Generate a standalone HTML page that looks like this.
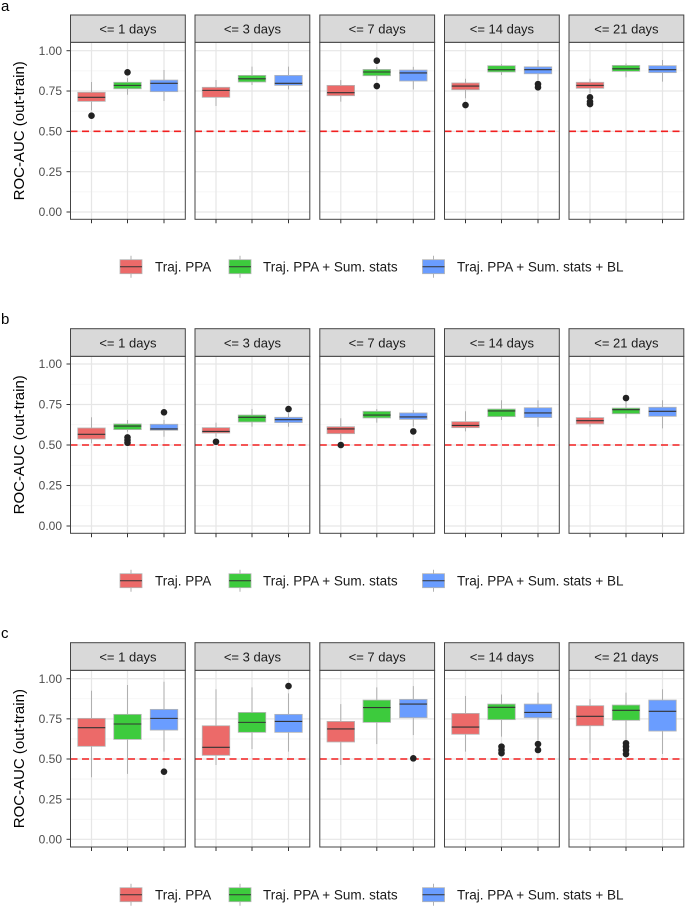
<!DOCTYPE html>
<html><head><meta charset="utf-8"><style>
html,body{margin:0;padding:0;background:#fff;}
svg{display:block;font-family:"Liberation Sans",sans-serif;}
</style></head><body>
<svg id="chart" width="685" height="907" viewBox="0 0 685 907" xmlns="http://www.w3.org/2000/svg"></svg>
<script>
const facets = ["<= 1 days","<= 3 days","<= 7 days","<= 14 days","<= 21 days"];
const series = ["Traj. PPA","Traj. PPA + Sum. stats","Traj. PPA + Sum. stats + BL"];
const yTicks = [0,0.25,0.5,0.75,1];
const yTickLabels = ["0.00","0.25","0.50","0.75","1.00"];
const refLine = 0.5;
// Order within each array: facet-major, series-minor (15 values)
const aQ1 = [0.686,0.764,0.746, 0.711,0.806,0.785, 0.721,0.845,0.812, 0.758,0.868,0.857, 0.767,0.872,0.864];
const aMed = [0.711,0.785,0.798, 0.754,0.826,0.798, 0.740,0.868,0.862, 0.781,0.882,0.882, 0.785,0.888,0.882];
const aQ3 = [0.742,0.804,0.818, 0.773,0.847,0.847, 0.785,0.884,0.880, 0.800,0.907,0.900, 0.804,0.909,0.907];
const aLo = [0.630,0.727,0.688, 0.657,0.787,0.760, 0.684,0.820,0.760, 0.705,0.849,0.818, 0.736,0.835,0.808];
const aHi = [0.806,0.830,0.880, 0.818,0.901,0.901, 0.818,0.900,0.900, 0.826,0.917,0.942, 0.826,0.921,0.942];
const aOut = [[0.597],[0.866],[], [],[],[], [],[0.938,0.781],[], [0.663],[],[0.793,0.773], [0.711,0.684,0.669],[],[]];
const bQ1 = [0.537,0.595,0.591, 0.574,0.642,0.638, 0.570,0.667,0.658, 0.607,0.675,0.669, 0.630,0.693,0.677];
const bMed = [0.566,0.617,0.599, 0.584,0.671,0.656, 0.599,0.685,0.673, 0.621,0.710,0.698, 0.650,0.718,0.708];
const bQ3 = [0.605,0.630,0.628, 0.607,0.685,0.671, 0.613,0.708,0.698, 0.644,0.722,0.730, 0.669,0.728,0.733];
const bLo = [0.510,0.582,0.551, 0.551,0.613,0.613, 0.531,0.638,0.613, 0.584,0.654,0.613, 0.613,0.665,0.603];
const bHi = [0.671,0.654,0.654, 0.638,0.722,0.696, 0.665,0.722,0.716, 0.708,0.776,0.776, 0.710,0.776,0.776];
const bOut = [[],[0.547,0.531,0.514],[0.702], [0.520],[],[0.722], [0.500],[],[0.584], [],[],[], [],[0.790],[]];
const cQ1 = [0.579,0.622,0.680, 0.523,0.666,0.666, 0.606,0.728,0.757, 0.654,0.745,0.757, 0.707,0.741,0.674];
const cMed = [0.695,0.718,0.753, 0.573,0.728,0.734, 0.687,0.820,0.842, 0.699,0.822,0.790, 0.766,0.803,0.797];
const cQ3 = [0.753,0.778,0.809, 0.707,0.790,0.778, 0.734,0.867,0.871, 0.784,0.842,0.842, 0.832,0.836,0.867];
const cLo = [0.386,0.407,0.546, 0.463,0.562,0.546, 0.463,0.593,0.649, 0.546,0.639,0.618, 0.535,0.618,0.531];
const cHi = [0.925,0.961,0.981, 0.934,0.946,0.909, 0.842,0.946,0.954, 0.892,0.902,0.913, 0.873,0.913,0.934];
const cOut = [[],[],[0.421], [],[],[0.954], [],[],[0.504], [],[0.577,0.556,0.536],[0.593,0.556], [],[0.598,0.577,0.556,0.531],[]];

const NS="http://www.w3.org/2000/svg";
const svg=document.getElementById('chart');
const fills=["#EC6A69","#3DCB3D","#6A9DFF"];
const panelLefts=[70.5,195,319.8,444.5,569];
const panelW=114.8;
const boxOff=[21,57,93.5];
const boxW=27.5;
function mk(tag,attrs,parent){const e=document.createElementNS(NS,tag);for(const k in attrs)e.setAttribute(k,attrs[k]);(parent||svg).appendChild(e);return e;}

function drawPanel(cfg){
  const g=mk('g',{});
  
  
  const yS=v=>cfg.y0+(cfg.y1-cfg.y0)*v;
  const lab=mk('text',{x:1,y:cfg.labelY,'font-size':15,fill:'#000'},g);
  lab.textContent=cfg.label;
  
  
  const yc=(cfg.stripBottom+cfg.panelBottom)/2;
  const yt=mk('text',{x:0,y:0,'font-size':15,fill:'#000','text-anchor':'middle',transform:`translate(24,${yc}) rotate(-90)`},g);
  yt.textContent="ROC-AUC (out-train)";
  
  
  yTicks.forEach((t,i)=>{
    const tl=mk('text',{x:62,y:yS(t)+4.2,'font-size':12,fill:'#4d4d4d','text-anchor':'end'},g);
    tl.textContent=yTickLabels[i];
    
    
    mk('line',{x1:66.5,x2:70.5,y1:yS(t),y2:yS(t),stroke:'#333','stroke-width':1},g);
  });
  facets.forEach((f,fi)=>{
    const L=panelLefts[fi];
    const fg=mk('g',{},g);
    
    
    mk('rect',{x:L,y:cfg.stripBottom,width:panelW,height:cfg.panelBottom-cfg.stripBottom,fill:'#fff'},fg);
    for(let k=0;k<4;k++){const v=0.125+0.25*k;mk('line',{x1:L,x2:L+panelW,y1:yS(v),y2:yS(v),stroke:'#f3f3f3','stroke-width':0.8},fg);}
    yTicks.forEach(t=>mk('line',{x1:L,x2:L+panelW,y1:yS(t),y2:yS(t),stroke:'#e6e6e6','stroke-width':1.2},fg));
    boxOff.forEach(o=>mk('line',{x1:L+o,x2:L+o,y1:cfg.stripBottom,y2:cfg.panelBottom,stroke:'#e6e6e6','stroke-width':1.2},fg));
    const rl=mk('line',{x1:L,x2:L+panelW,y1:yS(refLine),y2:yS(refLine),stroke:'#F21F1F','stroke-width':1.6,'stroke-dasharray':'7,4.5'},fg);
    
    
    series.forEach((s,si)=>{
      const idx=fi*3+si;const cx=L+boxOff[si];
      const bg=mk('g',{},fg);
      
      
      mk('line',{x1:cx,x2:cx,y1:yS(cfg.hi[idx]),y2:yS(cfg.lo[idx]),stroke:'#aaa','stroke-width':0.9},bg);
      mk('rect',{x:cx-boxW/2,y:yS(cfg.q3[idx]),width:boxW,height:yS(cfg.q1[idx])-yS(cfg.q3[idx]),fill:fills[si],stroke:'#b5b5b5','stroke-width':0.8},bg);
      mk('line',{x1:cx-boxW/2,x2:cx+boxW/2,y1:yS(cfg.med[idx]),y2:yS(cfg.med[idx]),stroke:'#333','stroke-width':1.1},bg);
      cfg.out[idx].forEach(v=>{const c=mk('circle',{cx:cx,cy:yS(v),r:3.3,fill:'#222'},bg);});
      mk('line',{x1:cx,x2:cx,y1:cfg.panelBottom,y2:cfg.panelBottom+4,stroke:'#333','stroke-width':1},fg);
    });
    mk('rect',{x:L,y:cfg.stripBottom,width:panelW,height:cfg.panelBottom-cfg.stripBottom,fill:'none',stroke:'#444','stroke-width':1},fg);
    const st=mk('rect',{x:L,y:cfg.stripTop,width:panelW,height:cfg.stripBottom-cfg.stripTop,fill:'#d9d9d9',stroke:'#444','stroke-width':1},fg);
    
    
    const stt=mk('text',{x:L+panelW/2,y:(cfg.stripTop+cfg.stripBottom)/2+4.8,'font-size':13,fill:'#1a1a1a','text-anchor':'middle'},fg);
    stt.textContent=f;
    
    
  });
  const lg=mk('g',{},g);
  
  
  const keyX=[120,229,422.5],txtX=[155,263,457];
  series.forEach((s,si)=>{
    const eg=mk('g',{},lg);
    
    
    const ly=cfg.legendY;
    mk('line',{x1:keyX[si]+11,x2:keyX[si]+11,y1:ly-11,y2:ly+11,stroke:'#aaa','stroke-width':0.9},eg);
    mk('rect',{x:keyX[si],y:ly-7,width:22,height:14,fill:fills[si],stroke:'#b5b5b5','stroke-width':0.8},eg);
    mk('line',{x1:keyX[si],x2:keyX[si]+22,y1:ly,y2:ly,stroke:'#333','stroke-width':1},eg);
    const t=mk('text',{x:txtX[si],y:ly+4.8,'font-size':13.5,fill:'#1a1a1a'},eg);
    t.textContent=s;
  });
}
drawPanel({label:'a',labelY:11,stripTop:15,stripBottom:42.3,y1:50.7,y0:212,panelBottom:219.3,legendY:266.7,q1:aQ1,med:aMed,q3:aQ3,lo:aLo,hi:aHi,out:aOut});
drawPanel({label:'b',labelY:324,stripTop:328.7,stripBottom:356.3,y1:364,y0:526,panelBottom:533.3,legendY:580.7,q1:bQ1,med:bMed,q3:bQ3,lo:bLo,hi:bHi,out:bOut});
drawPanel({label:'c',labelY:638,stripTop:642.7,stripBottom:670.3,y1:678.7,y0:839.3,panelBottom:847,legendY:894.7,q1:cQ1,med:cMed,q3:cQ3,lo:cLo,hi:cHi,out:cOut});
</script>
</body></html>
